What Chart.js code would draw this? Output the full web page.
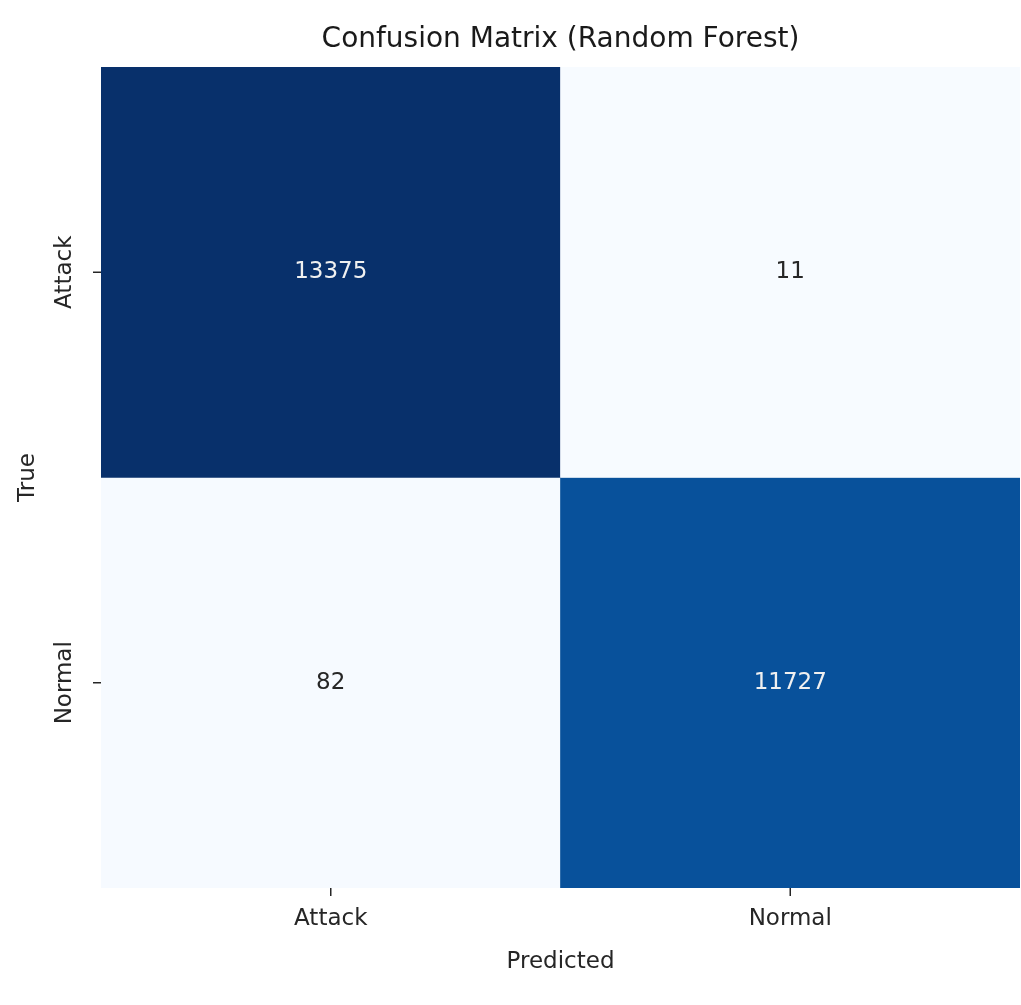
<!DOCTYPE html>
<html>
<head>
<meta charset="utf-8">
<script src="https://cdn.jsdelivr.net/npm/chart.js@4.4.0/dist/chart.umd.min.js"></script>
<style>
  html, body { margin: 0; padding: 0; background: #fff; }
  #wrap { width: 1021px; height: 1005px; }
</style>
</head>
<body>
<div id="wrap"><canvas id="cm"></canvas></div>
<script>
const classLabels = ['Attack', 'Normal'];
const rowAttack = [13375, 11];
const rowNormal = [82, 11727];
const titleText = 'Confusion Matrix (Random Forest)';

const FONT = '"DejaVu Sans", sans-serif';
const maxVal = Math.max(...rowAttack, ...rowNormal);

// approximate matplotlib "Blues" colormap
const blues = [[247,251,255],[222,235,247],[198,219,239],[158,202,225],[107,174,214],[66,146,198],[33,113,181],[8,81,156],[8,48,107]];
function bluesColor(v) {
    const t = Math.min(1, Math.max(0, v / maxVal)) * (blues.length - 1);
    const i = Math.min(blues.length - 2, Math.floor(t));
    const f = t - i;
    const c = blues[i].map((a, k) => Math.round(a + (blues[i + 1][k] - a) * f));
    return `rgb(${c[0]},${c[1]},${c[2]})`;
}

const cellLabels = {
    id: 'cellLabels',
    afterDatasetsDraw(chart) {
        const { ctx, chartArea, scales } = chart;
        const xs = scales.x, ys = scales.y;
        ctx.save();
        ctx.font = '23px ' + FONT;
        ctx.textAlign = 'center';
        ctx.textBaseline = 'middle';
        [rowAttack, rowNormal].forEach((row, r) => {
            row.forEach((v, c) => {
                ctx.fillStyle = v / maxVal > 0.5 ? '#f0f0f0' : '#262626';
                ctx.fillText(String(v), xs.getPixelForValue(c), ys.getPixelForValue(r + 0.5));
            });
        });
        // ticks and tick labels
        ctx.strokeStyle = '#262626';
        ctx.lineWidth = 1.5;
        ctx.fillStyle = '#262626';
        classLabels.forEach((lab, i) => {
            const x = xs.getPixelForValue(i);
            ctx.beginPath(); ctx.moveTo(x, chartArea.bottom); ctx.lineTo(x, chartArea.bottom + 8); ctx.stroke();
            ctx.textBaseline = 'top';
            ctx.fillText(lab, x, chartArea.bottom + 20);
            const y = ys.getPixelForValue(i + 0.5);
            ctx.beginPath(); ctx.moveTo(chartArea.left, y); ctx.lineTo(chartArea.left - 8, y); ctx.stroke();
            ctx.save();
            ctx.translate(chartArea.left - 36, y);
            ctx.rotate(-Math.PI / 2);
            ctx.textBaseline = 'middle';
            ctx.fillText(lab, 0, 0);
            ctx.restore();
        });
        // axis titles
        ctx.textBaseline = 'middle';
        ctx.fillText('Predicted', (chartArea.left + chartArea.right) / 2, 962);
        ctx.save();
        ctx.translate(28, (chartArea.top + chartArea.bottom) / 2);
        ctx.rotate(-Math.PI / 2);
        ctx.fillText('True', 0, 0);
        ctx.restore();
        // title
        ctx.font = '28px ' + FONT;
        ctx.fillStyle = '#1a1a1a';
        ctx.fillText(titleText, (chartArea.left + chartArea.right) / 2, 40);
        ctx.restore();
    }
};

new Chart(document.getElementById('cm'), {
    type: 'bar',
    data: {
        labels: classLabels,
        datasets: [
            { data: rowAttack.map(() => [0, 1]), backgroundColor: rowAttack.map(bluesColor) },
            { data: rowNormal.map(() => [1, 2]), backgroundColor: rowNormal.map(bluesColor) }
        ]
    },
    options: {
        responsive: true,
        maintainAspectRatio: false,
        animation: false,
        layout: { padding: { left: 101, top: 67, right: 1, bottom: 117 } },
        datasets: { bar: { barPercentage: 1, categoryPercentage: 1, grouped: false, borderWidth: 0 } },
        plugins: { legend: { display: false }, tooltip: { enabled: false }, title: { display: false } },
        scales: {
            x: { type: 'category', display: false },
            y: { type: 'linear', min: 0, max: 2, reverse: true, display: false }
        }
    },
    plugins: [cellLabels]
});
</script>
</body>
</html>
